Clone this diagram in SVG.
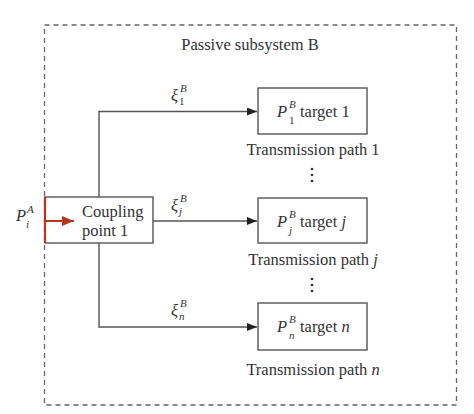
<svg xmlns="http://www.w3.org/2000/svg" width="474" height="414" viewBox="0 0 474 414">
<style>
.t{font-family:"Liberation Serif","Times New Roman",serif;font-size:16.5px;fill:#333}
.i{font-style:italic}
.s{font-family:"Liberation Serif","Times New Roman",serif;font-size:11px;fill:#333}
.box{fill:#fff;stroke:#555;stroke-width:1.4}
.ln{fill:none;stroke:#555;stroke-width:1.4}
</style>
<defs>
<marker id="ah" markerWidth="10" markerHeight="8" refX="10" refY="4" orient="auto" markerUnits="userSpaceOnUse">
<path d="M0,0 L10,4 L0,8 Z" fill="#222"/>
</marker>
<marker id="ahr" markerWidth="12" markerHeight="10" refX="12" refY="5" orient="auto" markerUnits="userSpaceOnUse">
<path d="M0,0 L12,5 L0,10 Z" fill="#b5371d"/>
</marker>
</defs>
<g id="subsystem">
<rect x="44.5" y="25" width="412" height="380" fill="none" stroke="#666" stroke-width="1.3" stroke-dasharray="5,4"/>
<text class="t" x="250" y="50" text-anchor="middle">Passive subsystem B</text>
</g>
<g id="connectors">
<path class="ln" d="M99,197 V111.5 H257" marker-end="url(#ah)"/>
<path class="ln" d="M153,221 H257" marker-end="url(#ah)"/>
<path class="ln" d="M99,243 V327 H257" marker-end="url(#ah)"/>
<text class="t i" x="171" y="101">ξ</text><text class="s i" x="180" y="92">B</text><text class="s" x="179" y="105">1</text>
<text class="t i" x="171" y="211">ξ</text><text class="s i" x="180" y="202">B</text><text class="s i" x="179" y="215">j</text>
<text class="t i" x="171" y="316">ξ</text><text class="s i" x="180" y="307">B</text><text class="s i" x="179" y="320">n</text>
</g>
<g id="input">
<text class="t i" x="16" y="221">P</text><text class="s i" x="27" y="213">A</text><text class="s i" x="26" y="228">i</text>
</g>
<g id="coupling">
<rect class="box" x="45" y="197" width="108" height="46"/>
<line x1="45" y1="197" x2="45" y2="243" stroke="#b5371d" stroke-width="2.2"/>
<line x1="45" y1="221" x2="74" y2="221" stroke="#b5371d" stroke-width="2" marker-end="url(#ahr)"/>
<text class="t" x="82" y="217">Coupling</text>
<text class="t" x="82" y="236">point 1</text>
</g>
<g id="target1">
<rect class="box" x="258" y="88" width="109" height="46"/>
<text class="t i" x="277" y="117">P</text><text class="s i" x="289" y="108">B</text><text class="s" x="289" y="124">1</text>
<text class="t" x="300" y="117">target 1</text>
<text class="t" x="313" y="155" text-anchor="middle">Transmission path 1</text>
</g>
<g id="dots1" fill="#333">
<circle cx="312" cy="169" r="1.3"/><circle cx="312" cy="175" r="1.3"/><circle cx="312" cy="181" r="1.3"/>
</g>
<g id="targetj">
<rect class="box" x="258" y="198" width="109" height="45"/>
<text class="t i" x="277" y="227">P</text><text class="s i" x="289" y="218">B</text><text class="s i" x="289" y="234">j</text>
<text class="t" x="300" y="227">target <tspan class="i">j</tspan></text>
<text class="t" x="313" y="265" text-anchor="middle">Transmission path <tspan class="i">j</tspan></text>
</g>
<g id="dots2" fill="#333">
<circle cx="312" cy="279" r="1.3"/><circle cx="312" cy="285" r="1.3"/><circle cx="312" cy="291" r="1.3"/>
</g>
<g id="targetn">
<rect class="box" x="258" y="303" width="109" height="47"/>
<text class="t i" x="277" y="332">P</text><text class="s i" x="289" y="323">B</text><text class="s i" x="289" y="339">n</text>
<text class="t" x="300" y="332">target <tspan class="i">n</tspan></text>
<text class="t" x="313" y="375" text-anchor="middle">Transmission path <tspan class="i">n</tspan></text>
</g>
</svg>
